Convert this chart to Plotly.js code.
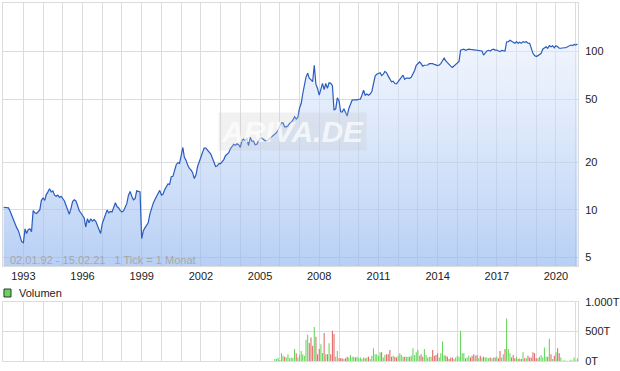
<!DOCTYPE html>
<html><head><meta charset="utf-8">
<script src="https://cdn.plot.ly/plotly-3.0.1.min.js"></script>
<style>html,body{margin:0;padding:0;background:#fff}#chart{width:620px;height:371px}</style>
</head><body><div id="chart"></div>
<script>
// Monthly closing prices (Jan 1992 - Feb 2021)
const p1992 = [10.4,10.4,10.4,10.3,9.8,9.2,8.5,8.0,7.7,7.4,6.9,6.3];
const p1993 = [6.2,7.6,7.1,7.5,7.6,7.3,9.9,9.6,9.5,9.8,10.0,11.5];
const p1994 = [11.9,11.5,12.5,13.0,13.6,13.0,13.2,12.4,12.2,12.4,12.0,12.2];
const p1995 = [11.8,11.4,10.7,10.0,9.4,10.2,11.3,11.6,11.4,10.7,9.9,9.6];
const p1996 = [9.3,8.9,7.8,8.8,8.3,8.8,8.5,8.7,8.5,8.0,7.4,7.1];
const p1997 = [8.2,8.8,9.4,10.0,9.6,9.8,9.7,10.4,11.1,10.5,10.3,9.9];
const p1998 = [9.7,9.9,10.5,11.0,12.4,13.1,12.2,11.6,11.8,13.2,13.1,13.0];
const p1999 = [6.6,7.4,7.7,8.0,8.3,9.4,10.3,11.0,11.6,12.1,12.7,13.3];
const p2000 = [12.4,12.6,13.4,14.2,14.6,14.5,16.2,16.3,17.8,19.3,19.9,19.7];
const p2001 = [22.0,24.8,21.5,20.6,19.2,18.3,17.9,17.2,15.8,16.6,18.8,20.0];
const p2002 = [21.5,23.2,24.6,24.6,23.9,23.4,22.6,21.3,19.6,18.8,19.0,19.6];
const p2003 = [19.6,20.2,20.8,22.0,22.5,23.0,24.3,25.3,26.0,25.6,26.2,25.8];
const p2004 = [24.8,27.5,28.0,27.2,28.5,25.5,28.8,27.2,27.2,25.8,26.0,27.2];
const p2005 = [28.3,28.4,27.8,27.5,27.2,27.8,28.2,28.8,29.3,30.0,30.8,32.0];
const p2006 = [33.5,35.5,35.5,33.5,33.5,34.0,35.2,35.8,37.0,38.8,37.5,38.5];
const p2007 = [44,47,54,62,69,73,67.8,66.6,64.5,82,62,58.5];
const p2008 = [53.1,58,63,57.5,62.9,58.6,63.5,63,61,42.7,43.5,51];
const p2009 = [49,41.7,41.5,43.6,41.7,39.2,43.6,45.9,49.4,49.6,49.4,49.6];
const p2010 = [50,50,53,57,53,54,53,54,56,63.5,70,72];
const p2011 = [73,73.5,70.5,72,75,73.5,70,66.5,64.5,65,62.9,62.5];
const p2012 = [64.5,66.5,69.5,71,66.8,68,68,67.8,69,72,76,82];
const p2013 = [84.5,86,83.9,81,82,82,82.3,83.9,84.2,84,83,82];
const p2014 = [81.5,82.3,84,87.5,91,87.5,85,83,81,79.3,81,83];
const p2015 = [85.6,86.6,101.9,102.8,103.7,101.9,102.8,103.7,103.2,102.8,102.3,102.8];
const p2016 = [101.9,101.9,100.9,100.9,95,97.5,100.9,101.9,100.9,102.8,103.7,102.3];
const p2017 = [102.3,100.9,100,101.9,101.9,100.9,115,115.5,118,116.3,114.5,112.8];
const p2018 = [115.5,112.8,114.5,112.8,115.5,114.5,115.5,113,112.8,105,97.5,94.3];
const p2019 = [93,94.3,96,97.5,103.5,105.8,107.4,105,109,107.4,109,105.8];
const p2020 = [109,107.4,105,105,105.8,105.8,105.8,107.4,109,110,109,111];
const p2021 = [110,111.8];
const priceYears = [p1992,p1993,p1994,p1995,p1996,p1997,p1998,p1999,p2000,p2001,p2002,p2003,p2004,p2005,p2006,p2007,p2008,p2009,p2010,p2011,p2012,p2013,p2014,p2015,p2016,p2017,p2018,p2019,p2020,p2021];
const priceStartYear = 1992;

// Monthly volume in thousands (Oct 2005 - Feb 2021)
const v2005 = [34,34,57];
const v2006 = [17,131,91,74,58,114,45,58,50,205,131,58];
const v2007 = [103,171,114,91,360,445,303,399,257,576,411,114];
const v2008 = [205,285,137,474,114,114,302,114,513,456,74,171];
const v2009 = [45,45,45,34,45,74,60,103,74,74,58,74];
const v2010 = [45,58,34,58,45,58,74,34,91,217,114,114];
const v2011 = [91,148,148,58,103,114,114,188,74,91,74,58];
const v2012 = [91,131,103,74,74,74,74,74,91,217,103,148];
const v2013 = [188,91,114,74,205,103,58,74,74,188,91,103];
const v2014 = [131,58,131,331,103,91,74,34,58,58,34,58];
const v2015 = [91,74,513,131,131,45,58,91,58,91,114,91];
const v2016 = [103,45,91,58,74,58,58,45,58,45,58,58];
const v2017 = [74,45,171,58,114,205,719,205,131,58,103,45];
const v2018 = [74,34,45,34,148,45,45,91,58,58,148,131];
const v2019 = [45,45,74,103,58,228,74,74,376,114,34,91];
const v2020 = [148,217,131,58,5,12,5,5,5,23,5,58];
const v2021 = [5,45];
const volumeYears = [v2005,v2006,v2007,v2008,v2009,v2010,v2011,v2012,v2013,v2014,v2015,v2016,v2017,v2018,v2019,v2020,v2021];
const volumeStartYear = 2005, volumeStartMonth = 10;

const priceTicks = [5,10,20,50,100];
const volTicks = [0,500,1000];
const volTickText = ['0T','500T','1.000T'];

function pad(n){return (n<10?'0':'')+n;}
const dates = [], prices = [];
priceYears.forEach((arr,i)=>arr.forEach((v,m)=>{dates.push((priceStartYear+i)+'-'+pad(m+1)+'-01');prices.push(v);}));
const vDates = [], vols = [], vCols = [];
volumeYears.forEach((arr,i)=>arr.forEach((v,k)=>{
  const mAbs = (i===0? volumeStartMonth-1+k : k);
  const y = volumeStartYear+i;
  const d = y+'-'+pad(mAbs+1)+'-01';
  vDates.push(d); vols.push(v);
  const idx = dates.indexOf(d);
  vCols.push(idx>0 && prices[idx] < prices[idx-1] ? '#e06868' : '#66d55a');
}));

const yRangeLog = [0.646, 2.307];
const floorVal = Math.pow(10, yRangeLog[0]);   // bottom edge of the price panel
const baseline = dates.map(()=>floorVal);

const grid = '#dcdcdc';
const font = {family:'"Liberation Sans", Arial, sans-serif', size:11, color:'#222'};
const xbase = {type:'date', range:['1991-12-21','2021-02-12'], tick0:'1993-01-01', dtick:'M36', tickformat:'%Y',
  showgrid:true, gridcolor:grid, gridwidth:1, ticks:'', zeroline:false, showline:true, linecolor:grid, mirror:true,
  minor:{tick0:'1992-01-01', dtick:'M12', showgrid:true, gridcolor:grid, gridwidth:1}, tickfont:font, fixedrange:true};

const traces = [
  {type:'scatter', mode:'lines', x:dates, y:baseline, xaxis:'x', yaxis:'y', line:{width:0, color:'rgba(0,0,0,0)'},
   hoverinfo:'skip', showlegend:false},
  {type:'scatter', mode:'lines', x:dates, y:prices, xaxis:'x', yaxis:'y',
   line:{color:'#2a5cc0', width:1.2}, fill:'tonexty',
   fillgradient:{type:'vertical', colorscale:[[0,'rgba(150,185,240,0.68)'],[1,'rgba(225,235,252,0.5)']]},
   hoverinfo:'skip', showlegend:false},
  {type:'bar', x:vDates, y:vols, xaxis:'x2', yaxis:'y2', marker:{color:vCols, line:{width:0}},
   hoverinfo:'skip', showlegend:false}
];

const layout = {
  width:620, height:371, margin:{l:3, r:42, t:3, b:10}, paper_bgcolor:'#fff', plot_bgcolor:'rgba(0,0,0,0)',
  showlegend:false, bargap:0.3, font:font,
  xaxis: Object.assign({}, xbase, {anchor:'y'}),
  xaxis2: Object.assign({}, xbase, {anchor:'y2', matches:'x', showticklabels:false}),
  yaxis: {domain:[0.2654,1], type:'log', range:yRangeLog, side:'right', tickvals:priceTicks, ticktext:priceTicks.map(String),
    showgrid:true, gridcolor:grid, ticks:'', ticklabelstandoff:4, zeroline:false, showline:true, linecolor:grid, mirror:true, tickfont:font, fixedrange:true},
  yaxis2: {domain:[0,0.1648], range:[0,1000], side:'right', tickvals:volTicks, ticktext:volTickText,
    showgrid:true, gridcolor:grid, ticks:'', ticklabelstandoff:4, zeroline:false, showline:true, linecolor:grid, mirror:true, tickfont:font, fixedrange:true},
  annotations:[
    {xref:'paper', yref:'paper', x:0.009, y:0.282, xanchor:'left', yanchor:'middle', showarrow:false,
     text:'02.01.92 - 15.02.21\u00a0\u00a0\u00a01 Tick = 1 Monat', font:{family:font.family, size:11, color:'#a8a8a8'}},
    {xref:'paper', yref:'paper', x:0.024, y:0.19, xanchor:'left', yanchor:'middle', showarrow:false,
     text:'Volumen', font:{family:font.family, size:11, color:'#222'}},
    {xref:'paper', yref:'paper', x:0.503, y:0.642, xanchor:'center', yanchor:'middle', showarrow:false,
     text:'<b><i>ARIVA.DE</i></b>', font:{family:font.family, size:30, color:'rgba(255,255,255,0.7)'},
     bgcolor:'rgba(200,200,200,0.25)', borderpad:2}
  ],
  shapes:[
    {type:'rect', xref:'paper', yref:'paper', x0:0.0017, x1:0.0139, y0:0.1788, y1:0.201,
     fillcolor:'#66d55a', line:{color:'#333', width:1}}
  ]
};
Plotly.newPlot('chart', traces, layout, {staticPlot:true, displayModeBar:false});
</script></body></html>
